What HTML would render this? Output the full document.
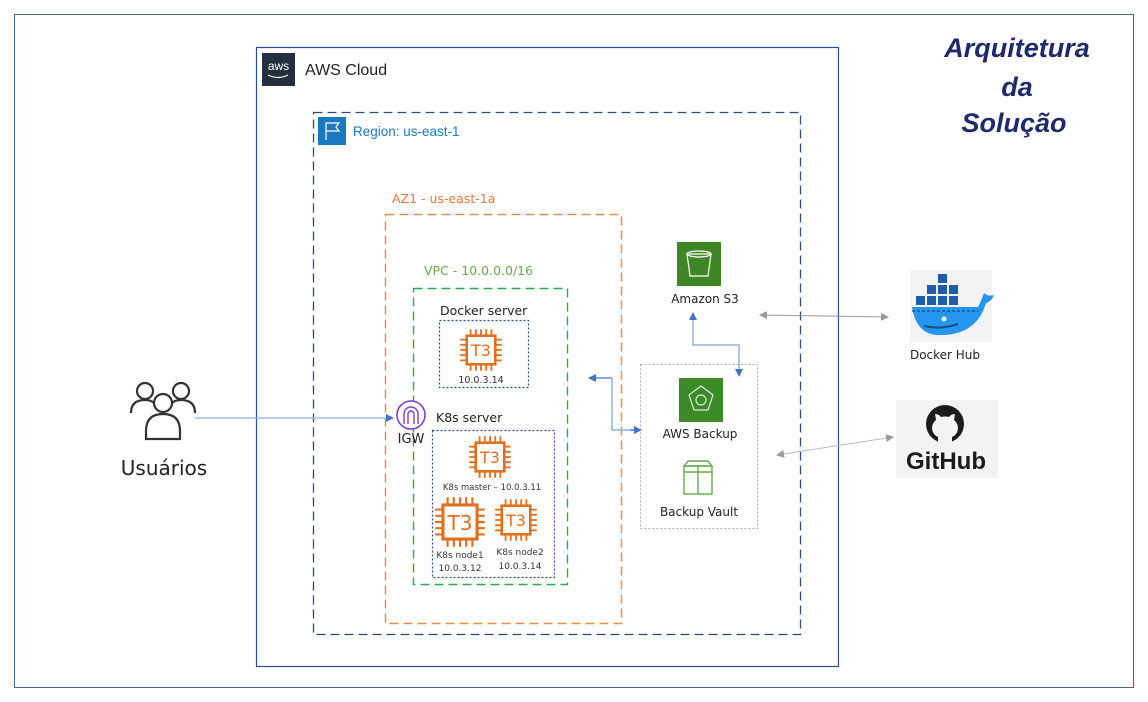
<!DOCTYPE html>
<html><head><meta charset="utf-8"><style>
body{margin:0;background:#fff;}
svg{display:block;font-family:"Liberation Sans",sans-serif;}
.c{font-family:"DejaVu Sans","Liberation Sans",sans-serif;}
</style></head><body>
<svg width="1148" height="702" viewBox="0 0 1148 702" xmlns="http://www.w3.org/2000/svg">
<defs>
<marker id="ab" markerWidth="8" markerHeight="8" refX="7" refY="4" orient="auto-start-reverse" markerUnits="userSpaceOnUse"><path d="M0,0 L8,4 L0,8 z" fill="#4472c4"/></marker>
<marker id="ag" markerWidth="8" markerHeight="8" refX="7" refY="4" orient="auto-start-reverse" markerUnits="userSpaceOnUse"><path d="M0,0 L8,4 L0,8 z" fill="#999"/></marker>
<g id="chip">
<rect x="-11" y="-11" width="22" height="22" fill="none" stroke="#e0701f" stroke-width="2"/>
<g stroke="#e0701f" stroke-width="1.4">
<path d="M-8,-11v-5M-4,-11v-5M0,-11v-5M4,-11v-5M8,-11v-5"/>
<path d="M-8,11v5M-4,11v5M0,11v5M4,11v5M8,11v5"/>
<path d="M-11,-8h-5M-11,-4h-5M-11,0h-5M-11,4h-5M-11,8h-5"/>
<path d="M11,-8h5M11,-4h5M11,0h5M11,4h5M11,8h5"/>
</g></g>
</defs>
<rect x="14.5" y="14.5" width="1119" height="673" fill="none" stroke="#4a6585" stroke-width="1"/>
<rect x="256.5" y="47.5" width="582" height="619" fill="none" stroke="#2f4d8a" stroke-width="1.2"/>
<rect x="262" y="53" width="33" height="33" fill="#232f3e"/>
<text x="278.5" y="70" font-size="12" fill="#fff" text-anchor="middle">aws</text>
<path d="M268,75 q10,5 20,0" stroke="#fff" fill="none" stroke-width="1.2"/>
<text x="305" y="75" font-size="16" fill="#222">AWS Cloud</text>
<rect x="313.5" y="112.5" width="487" height="522" fill="none" stroke="#2e4a7a" stroke-width="1.3" stroke-dasharray="9,5"/>
<rect x="318" y="117" width="28" height="28" fill="#1a7ac0"/>
<path d="M326,140V123h13l-3,4 3,4h-13" stroke="#fff" fill="none" stroke-width="1.2"/>
<text x="353" y="136" font-size="13.5" fill="#1a7ac0">Region: us-east-1</text>
<text x="392" y="203" font-size="12.5" fill="#e8793a" class="c">AZ1 - us-east-1a</text>
<rect x="385.5" y="214.5" width="236" height="409" fill="none" stroke="#ed8b4a" stroke-width="1.5" stroke-dasharray="9,5"/>
<text x="424" y="275" font-size="12.5" fill="#6aa84f" class="c">VPC  - 10.0.0.0/16</text>
<rect x="413.5" y="288.5" width="154" height="296" fill="none" stroke="#2aa85a" stroke-width="1.4" stroke-dasharray="9,5"/>
<text x="440" y="315" font-size="12.5" fill="#222" class="c">Docker server</text>
<rect x="439.5" y="320.5" width="89" height="67" fill="none" stroke="#2e4a8a" stroke-width="1.2" stroke-dasharray="2,2"/>
<use href="#chip" transform="translate(481,350) scale(1.3)"/>
<text x="481" y="356" font-size="16" fill="#e0701f" text-anchor="middle" class="c">T3</text>
<text x="481" y="383" font-size="9.5" fill="#333" text-anchor="middle" class="c">10.0.3.14</text>
<circle cx="411" cy="415" r="14" fill="#fff" stroke="#7b3fd0" stroke-width="1.6"/>
<path d="M404,424V414a7,7 0 0 1 14,0V424M408,424V414a3,3 0 0 1 6,0V424" fill="none" stroke="#7b3fd0" stroke-width="1.4"/>
<text x="411" y="443" font-size="13" fill="#222" text-anchor="middle" class="c">IGW</text>
<text x="436" y="422" font-size="12.5" fill="#222" class="c">K8s server</text>
<rect x="432.5" y="430.5" width="122" height="147" fill="none" stroke="#2e4a8a" stroke-width="1.2" stroke-dasharray="2,2"/>
<use href="#chip" transform="translate(490,457) scale(1.3)"/>
<text x="490" y="463" font-size="16" fill="#e0701f" text-anchor="middle" class="c">T3</text>
<text x="492" y="490" font-size="8.5" fill="#333" text-anchor="middle" class="c">K8s master – 10.0.3.11</text>
<use href="#chip" transform="translate(460,522) scale(1.55)"/>
<text x="460" y="530" font-size="20" fill="#e0701f" text-anchor="middle" class="c">T3</text>
<use href="#chip" transform="translate(516,520) scale(1.3)"/>
<text x="516" y="526" font-size="16" fill="#e0701f" text-anchor="middle" class="c">T3</text>
<text x="460" y="558" font-size="9" fill="#333" text-anchor="middle" class="c">K8s node1</text>
<text x="460" y="571" font-size="9" fill="#333" text-anchor="middle" class="c">10.0.3.12</text>
<text x="520" y="555" font-size="9" fill="#333" text-anchor="middle" class="c">K8s node2</text>
<text x="520" y="569" font-size="9" fill="#333" text-anchor="middle" class="c">10.0.3.14</text>
<rect x="677" y="242" width="44" height="44" fill="#3f8624"/>
<path d="M687,254h24l-3,22h-18z" fill="none" stroke="#fff" stroke-width="1.2"/>
<ellipse cx="699" cy="254" rx="12" ry="3" fill="none" stroke="#fff" stroke-width="1.2"/>
<text x="705" y="303" font-size="12" fill="#222" text-anchor="middle" class="c">Amazon S3</text>
<rect x="640.5" y="364.5" width="117" height="164" fill="none" stroke="#aaa" stroke-width="1" stroke-dasharray="2,2"/>
<rect x="679" y="378" width="44" height="44" fill="#3a8a2a"/>
<path d="M701,386l12,9-5,15h-14l-5-15z" fill="none" stroke="#d8eed0" stroke-width="1.2"/>
<circle cx="701" cy="400" r="5" fill="none" stroke="#d8eed0" stroke-width="1.2"/>
<text x="700" y="438" font-size="12" fill="#222" text-anchor="middle" class="c">AWS Backup</text>
<g fill="none" stroke="#6aa84f" stroke-width="1.4"><rect x="684" y="466" width="28" height="28"/><path d="M698,466v28M684,472h28M688,461h20l4,5h-28z"/></g>
<text x="699" y="516" font-size="12" fill="#222" text-anchor="middle" class="c">Backup Vault</text>
<path d="M612,378H589" fill="none" stroke="#4472c4" stroke-width="1.3" marker-end="url(#ab)"/>
<path d="M612,378V430H640" fill="none" stroke="#8fb0e0" stroke-width="1.5"/>
<path d="M630,430H641" fill="none" stroke="#4472c4" stroke-width="1.3" marker-end="url(#ab)"/>
<path d="M739,376V345H693V313" fill="none" stroke="#8fb0e0" stroke-width="1.5" marker-start="url(#ab)" marker-end="url(#ab)"/>
<path d="M760,315L888,317" stroke="#999" stroke-width="1" marker-start="url(#ag)" marker-end="url(#ag)"/>
<path d="M777,455L893,437" stroke="#bbb" stroke-width="1" marker-start="url(#ag)" marker-end="url(#ag)"/>
<path d="M195,418H393" stroke="#8fb0e0" stroke-width="1.2" marker-end="url(#ab)"/>
<rect x="910" y="270" width="82" height="72" fill="#f3f3f3"/>
<path d="M912,307h66q4,-8 6,-14q4,4 10,2q-2,6 -8,8q-10,34 -50,32q-20,-2 -24,-28z" fill="#2496ed"/>
<path d="M912,311h66" stroke="#1a4a80" stroke-width="1.2" stroke-dasharray="3,2"/>
<path d="M924,326q16,4 34,-2" stroke="#1a4a80" fill="none" stroke-width="2"/>
<circle cx="944" cy="319" r="2.5" fill="#fff"/>
<g fill="#1e5ea8"><rect x="916" y="296" width="9" height="9"/><rect x="927" y="296" width="9" height="9"/><rect x="938" y="296" width="9" height="9"/><rect x="949" y="296" width="9" height="9"/><rect x="927" y="285" width="9" height="9"/><rect x="938" y="285" width="9" height="9"/><rect x="949" y="285" width="9" height="9"/><rect x="938" y="274" width="9" height="9"/></g>
<text x="945" y="359" font-size="12" fill="#222" text-anchor="middle" class="c">Docker Hub</text>
<rect x="896" y="400" width="102" height="78" fill="#f3f3f3"/>
<circle cx="945" cy="424" r="19" fill="#1b1b1b"/>
<path d="M938,443v-6q-5,-2 -6,-8q0,-6 4,-9l-1,-6q4,0 6,3q4,-1 8,0q2,-3 6,-3l-1,6q4,3 4,9q-1,6 -6,8v6z" fill="#f3f3f3"/>
<text x="946" y="469" font-size="24" font-weight="bold" fill="#1b1b1b" text-anchor="middle">GitHub</text>
<g fill="none" stroke="#333" stroke-width="2.2">
<circle cx="145" cy="391" r="8"/><circle cx="181" cy="391" r="8"/><circle cx="163" cy="403" r="9"/>
<path d="M131,413q0,-13 14,-13q6,0 9,3M195,413q0,-13 -14,-13q-6,0 -9,3"/>
<path d="M146,439v-8q0,-17 17,-17q17,0 17,17v8z"/>
</g>
<text x="164" y="475" font-size="20" fill="#222" text-anchor="middle" class="c">Usuários</text>
<g font-size="27" font-weight="bold" font-style="italic" fill="#1f2a6e" text-anchor="middle">
<text x="1017" y="57">Arquitetura</text>
<text x="1017" y="96">da</text>
<text x="1014" y="132">Solução</text>
</g>
</svg>
</body></html>
